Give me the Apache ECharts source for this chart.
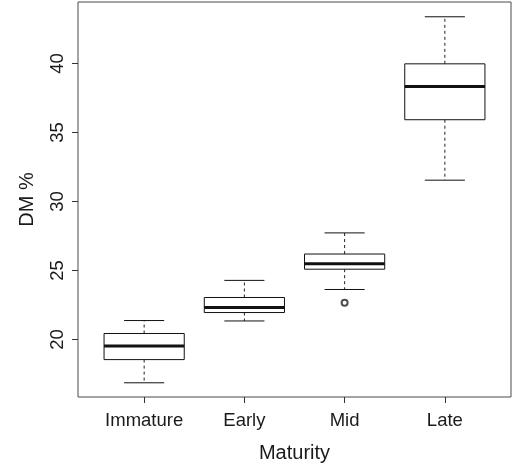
<!DOCTYPE html>
<html>
<head>
<meta charset="utf-8">
<script src="https://cdn.jsdelivr.net/npm/echarts@6/dist/echarts.min.js"></script>
<style>
html,body{margin:0;padding:0;background:#fff;}
#c{width:530px;height:464px;}
</style>
</head>
<body>
<div id="c"></div>
<script>
const categories = ['Immature', 'Early', 'Mid', 'Late'];
const whiskerLow = [16.87, 21.35, 23.63, 31.55];
const q1 = [18.55, 21.96, 25.10, 35.93];
const median = [19.53, 22.33, 25.49, 38.33];
const q3 = [20.44, 23.05, 26.20, 39.98];
const whiskerHigh = [21.38, 24.29, 27.73, 43.39];
const outliers = [[3, 22.66]];
const yTicks = [20, 25, 30, 35, 40];
const xTicks = [1, 2, 3, 4];

const boxData = categories.map((c, i) => [i + 1, whiskerLow[i], q1[i], median[i], q3[i], whiskerHigh[i]]);

const FONT = "'Liberation Sans', Arial, Helvetica, sans-serif";
const TXT = '#1a1a1a';

const chart = echarts.init(document.getElementById('c'));
chart.setOption({
  animation: false,
  backgroundColor: '#fff',
  grid: {
    left: 78, right: 19, top: 2, bottom: 67,
    outerBoundsMode: 'none', containLabel: false,
    show: true, borderColor: '#4a4a4a', borderWidth: 1, backgroundColor: 'transparent'
  },
  xAxis: {
    type: 'value', min: 0.34, max: 4.66,
    splitLine: { show: false },
    axisLine: { show: false },
    axisTick: { show: true, customValues: xTicks, length: 6, lineStyle: { color: '#333' } },
    axisLabel: {
      customValues: xTicks, margin: 14,
      formatter: v => categories[Math.round(v) - 1] || '',
      fontSize: 18.5, color: TXT, fontFamily: FONT
    },
    name: 'Maturity', nameLocation: 'middle', nameGap: 46,
    nameTextStyle: { fontSize: 20, color: TXT, fontFamily: FONT }
  },
  yAxis: {
    type: 'value', min: 15.84, max: 44.46,
    splitLine: { show: false },
    axisLine: { show: false },
    axisTick: { show: true, customValues: yTicks, length: 6, lineStyle: { color: '#333' } },
    axisLabel: {
      customValues: yTicks, rotate: 90, margin: 11,
      fontSize: 18.5, color: TXT, fontFamily: FONT
    },
    name: 'DM %', nameLocation: 'middle', nameGap: 41, nameRotate: 90,
    nameTextStyle: { fontSize: 20, color: TXT, fontFamily: FONT }
  },
  series: [
    {
      type: 'custom',
      data: boxData,
      encode: { x: 0, y: [1, 2, 3, 4, 5] },
      renderItem: function (params, api) {
        const x = api.value(0);
        const pLo = api.coord([x, api.value(1)]);
        const pQ1 = api.coord([x, api.value(2)]);
        const pMed = api.coord([x, api.value(3)]);
        const pQ3 = api.coord([x, api.value(4)]);
        const pHi = api.coord([x, api.value(5)]);
        const bw = api.size([0.8, 0])[0];
        const cw = api.size([0.4, 0])[0];
        const cx = pMed[0];
        const solid = { stroke: '#111', lineWidth: 1, fill: null };
        const dashed = { stroke: '#222', lineWidth: 1, lineDash: [3, 3], fill: null };
        return {
          type: 'group',
          children: [
            { type: 'line', shape: { x1: cx, y1: pQ3[1], x2: cx, y2: pHi[1] }, style: dashed },
            { type: 'line', shape: { x1: cx, y1: pQ1[1], x2: cx, y2: pLo[1] }, style: dashed },
            { type: 'line', shape: { x1: cx - cw / 2, y1: pHi[1], x2: cx + cw / 2, y2: pHi[1] }, style: solid },
            { type: 'line', shape: { x1: cx - cw / 2, y1: pLo[1], x2: cx + cw / 2, y2: pLo[1] }, style: solid },
            { type: 'rect', shape: { x: cx - bw / 2, y: pQ3[1], width: bw, height: pQ1[1] - pQ3[1] },
              style: { stroke: '#111', lineWidth: 1, fill: '#fff' } },
            { type: 'line', shape: { x1: cx - bw / 2, y1: pMed[1], x2: cx + bw / 2, y2: pMed[1] },
              style: { stroke: '#111', lineWidth: 3 } }
          ]
        };
      },
      z: 2
    },
    {
      type: 'scatter',
      data: outliers,
      symbol: 'circle',
      symbolSize: 6,
      itemStyle: { color: '#fff', borderColor: '#222', borderWidth: 2 },
      z: 3
    }
  ]
});
</script>
</body>
</html>
